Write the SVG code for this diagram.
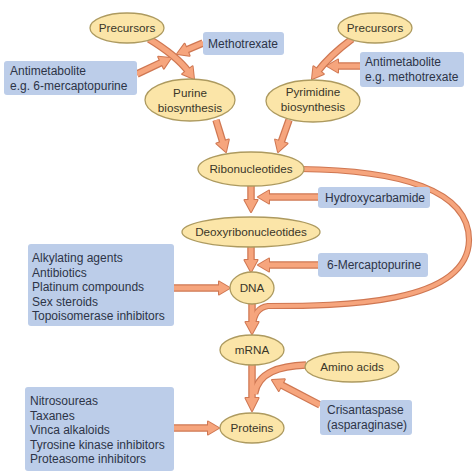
<svg xmlns="http://www.w3.org/2000/svg" xmlns:xlink="http://www.w3.org/1999/xlink" width="474" height="474" viewBox="0 0 474 474">
<style>
.node ellipse{fill:#fbe5a8;stroke:#ad9a5f;stroke-width:1.3}
.node text{font-family:"Liberation Sans",Arial,sans-serif;font-size:11.7px;fill:#3a3628;text-anchor:middle}
.box rect{fill:#bccde9}
.box text{font-family:"Liberation Sans",Arial,sans-serif;font-size:12px;fill:#2d3447}
.sh{fill:none}
.lp{fill:none}
</style>
<defs>
<g id="shafts">
<path d="M174 288H221"/>
<path d="M174 428H210"/>
<path d="M318 197H266"/>
<path d="M318 265H266"/>
<path d="M360 66H335"/>
<path d="M251 186V202"/>
<path d="M251 246V262"/>
<path d="M252 302V324"/>
<path d="M252 364V400"/>
<path d="M216 120L223.2 143.4"/>
<path d="M289 120L280.7 143.4"/>
<path d="M203 43L185.3 50.5"/>
<path d="M137 74L162.8 61.8"/>
<path d="M320 405L280 384.2"/>
<path d="M149 39Q176.6 55.8 188.6 71.8"/>
<path d="M352 39Q329.4 55.8 317.4 71.8"/>
<path d="M306 365C280 366 258 372 254.5 394"/>
</g>
<g id="loop">
<path d="M300 169C400 170 469 190 469 240C468 305 340 306 268 306Q254 308 253 326"/>
</g>
<g id="heads">
<path d="M219 281.5L230 288L219 294.5Z"/>
<path d="M208 421.5L219 428L208 434.5Z"/>
<path d="M269 190.5L258 197L269 203.5Z"/>
<path d="M269 258.5L258 265L269 271.5Z"/>
<path d="M338 59.5L327 66L338 72.5Z"/>
<path d="M244.5 200L251 212L257.5 200Z"/>
<path d="M244.5 260L251 272L257.5 260Z"/>
<path d="M245.5 322L252 334L258.5 322Z"/>
<path d="M245.5 398L252 411L258.5 398Z"/>
<path d="M216.4 143.5L226 152L228.8 139.5Z"/>
<path d="M275.1 139.6L278 152L287.5 143.4Z"/>
<path d="M184.6 43.7L177 54L189.6 55.7Z"/>
<path d="M163.8 68.6L171 58L158.2 56.8Z"/>
<path d="M284.8 379.3L272 380L278.8 390.9Z"/>
<path d="M182.2 74.1L194 79L192.6 66.3Z"/>
<path d="M313.4 66.3L312 79L323.8 74.1Z"/>
</g>
</defs>
<rect width="474" height="474" fill="#ffffff"/>
<g id="connectors">
<use xlink:href="#shafts" fill="none" stroke="#cf7752" stroke-width="7.5"/>
<use xlink:href="#loop" fill="none" stroke="#cf7752" stroke-width="6.2"/>
<use xlink:href="#heads" fill="#cf7752" stroke="#cf7752" stroke-width="2" stroke-linejoin="round"/>
<use xlink:href="#shafts" fill="none" stroke="#f6a57d" stroke-width="5"/>
<use xlink:href="#loop" fill="none" stroke="#f6a57d" stroke-width="4"/>
<use xlink:href="#heads" fill="#f6a57d"/>
</g>
<g id="precursors-left" class="node"><ellipse cx="127" cy="28" rx="37" ry="15"/><text x="127" y="32">Precursors</text></g>
<g id="precursors-right" class="node"><ellipse cx="375" cy="28" rx="37" ry="15"/><text x="375" y="32">Precursors</text></g>
<g id="purine" class="node"><ellipse cx="190" cy="100" rx="45" ry="21"/><text x="190" y="97">Purine</text><text x="190" y="112">biosynthesis</text></g>
<g id="pyrimidine" class="node"><ellipse cx="313" cy="101" rx="47" ry="21"/><text x="313" y="96">Pyrimidine</text><text x="313" y="111">biosynthesis</text></g>
<g id="ribonucleotides" class="node"><ellipse cx="251" cy="169" rx="53" ry="17"/><text x="251" y="173">Ribonucleotides</text></g>
<g id="deoxyribonucleotides" class="node"><ellipse cx="251" cy="232" rx="69" ry="15"/><text x="251" y="236">Deoxyribonucleotides</text></g>
<g id="dna" class="node"><ellipse cx="252" cy="288" rx="22" ry="16"/><text x="252" y="292">DNA</text></g>
<g id="mrna" class="node"><ellipse cx="252" cy="350" rx="32" ry="15"/><text x="252" y="354">mRNA</text></g>
<g id="amino-acids" class="node"><ellipse cx="352" cy="367" rx="47" ry="15"/><text x="352" y="371">Amino acids</text></g>
<g id="proteins" class="node"><ellipse cx="252" cy="428" rx="32" ry="15"/><text x="252" y="432">Proteins</text></g>
<g id="methotrexate" class="box"><rect x="203" y="32" width="81" height="23" rx="3"/><text x="208" y="47.5">Methotrexate</text></g>
<g id="antimetabolite-left" class="box"><rect x="4" y="61" width="133" height="34" rx="3"/><text x="10" y="75">Antimetabolite</text><text x="10" y="89.5">e.g. 6-mercaptopurine</text></g>
<g id="antimetabolite-right" class="box"><rect x="360" y="52" width="104" height="35" rx="3"/><text x="365" y="66">Antimetabolite</text><text x="365" y="81">e.g. methotrexate</text></g>
<g id="hydroxycarbamide" class="box"><rect x="318" y="187" width="112" height="21" rx="3"/><text x="325" y="202">Hydroxycarbamide</text></g>
<g id="mercaptopurine" class="box"><rect x="318" y="253" width="110" height="24" rx="3"/><text x="327" y="269">6-Mercaptopurine</text></g>
<g id="dna-drugs" class="box"><rect x="28" y="244" width="146" height="82" rx="3"/><text x="32" y="262">Alkylating agents</text><text x="32" y="276.5">Antibiotics</text><text x="32" y="291">Platinum compounds</text><text x="32" y="305.5">Sex steroids</text><text x="32" y="320">Topoisomerase inhibitors</text></g>
<g id="protein-drugs" class="box"><rect x="25" y="387" width="149" height="84" rx="3"/><text x="30" y="405">Nitrosoureas</text><text x="30" y="419.5">Taxanes</text><text x="30" y="434">Vinca alkaloids</text><text x="30" y="448.5">Tyrosine kinase inhibitors</text><text x="30" y="463">Proteasome inhibitors</text></g>
<g id="crisantaspase" class="box"><rect x="320" y="400" width="92" height="35" rx="3"/><text x="327" y="414">Crisantaspase</text><text x="327" y="429">(asparaginase)</text></g>
</svg>
